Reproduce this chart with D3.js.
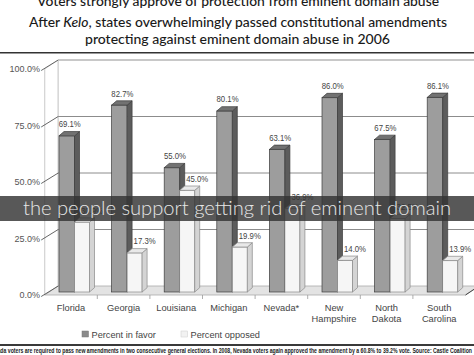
<!DOCTYPE html>
<html><head><meta charset="utf-8">
<script src="https://cdn.jsdelivr.net/npm/d3@7"></script>
<style>html,body{margin:0;padding:0;background:#fff;overflow:hidden}svg{display:block}</style>
</head><body>
<script>
const categories = ["Florida","Georgia","Louisiana","Michigan","Nevada*","New Hampshire","North Dakota","South Carolina"];
const categoryLines = [["Florida"],["Georgia"],["Louisiana"],["Michigan"],["Nevada*"],["New","Hampshire"],["North","Dakota"],["South","Carolina"]];
const percentInFavor = [69.1,82.7,55.0,80.1,63.1,86.0,67.5,86.1];
const percentOpposed = [30.9,17.3,45.0,19.9,36.9,14.0,32.5,13.9];
const yTickValues = [0,25,50,75,100];
const seriesNames = ["Percent in favor","Percent opposed"];
const titleLines = ["Voters strongly approve of protection from eminent domain abuse"];
const overlayText = "the people support getting rid of eminent domain";
const footnote = "*Nevada voters are required to pass new amendments in two consecutive general elections. In 2008, Nevada voters again approved the amendment by a 60.8% to 39.2% vote. Source: Castle Coalition";

const W = 474, H = 355;
const svg = d3.select("body").append("svg").attr("width", W).attr("height", H);

// scales (front plane)
const x = d3.scaleBand().domain(categories).range([44.7, 465.5]);
const y = d3.scaleLinear().domain([0, 100]).range([295, 69]);
const DX = 13.5, DY = -9;       // floor depth
const BX = 4.5, BY = -3;        // bar plane offset
const SX = 5, SY = -4.3;        // bar depth
const BW1 = 15.5, BW2 = 15;

// Titles
const tg = svg.append("g").attr("font-family", "Lato, 'Noto Sans', sans-serif").attr("font-weight", 500).attr("fill", "#1a1a1a").attr("text-anchor", "middle");
tg.append("text").attr("x", 238).attr("y", 5.5).attr("font-size", 14).attr("textLength", 402).attr("lengthAdjust", "spacingAndGlyphs").text(titleLines[0]);
const t2 = tg.append("text").attr("x", 238).attr("y", 26.7).attr("font-size", 14).attr("textLength", 418).attr("lengthAdjust", "spacingAndGlyphs");
t2.append("tspan").text("After ");
t2.append("tspan").attr("font-style", "italic").text("Kelo");
t2.append("tspan").text(", states overwhelmingly passed constitutional amendments");
tg.append("text").attr("x", 237.5).attr("y", 44.3).attr("font-size", 14).attr("textLength", 305).attr("lengthAdjust", "spacingAndGlyphs").text("protecting against eminent domain abuse in 2006");

svg.append("line").attr("x1", 0).attr("x2", W).attr("y1", 52.8).attr("y2", 52.8).attr("stroke", "#333").attr("stroke-width", 1.6);

// walls
const x0 = x.range()[0], x1 = x.range()[1];
const yb = v => y(v) + DY;
svg.append("polygon").attr("points", [[x0, y(0)], [x0 + DX, yb(0)], [x0 + DX, yb(100)], [x0, y(100)]].join(" "))
  .attr("fill", "#fff").attr("stroke", "#d0d0d0").attr("stroke-width", 0.8);
svg.append("rect").attr("x", x0 + DX).attr("y", yb(100)).attr("width", W).attr("height", yb(0) - yb(100)).attr("fill", "#fff");
svg.append("line").attr("x1", x0 + DX).attr("x2", W).attr("y1", yb(100)).attr("y2", yb(100)).attr("stroke", "#c8c8c8").attr("stroke-width", 2);
svg.append("line").attr("x1", x0 + DX).attr("x2", x0 + DX).attr("y1", yb(100)).attr("y2", yb(0)).attr("stroke", "#c8c8c8").attr("stroke-width", 1);
yTickValues.filter(v => v > 0 && v < 100).forEach(v => {
  svg.append("line").attr("x1", x0 + DX).attr("x2", W).attr("y1", yb(v)).attr("y2", yb(v)).attr("stroke", "#8c8c8c").attr("stroke-width", 1);
});
// floor
svg.append("polygon").attr("points", [[x0, y(0)], [x1, y(0)], [x1 + DX, yb(0)], [x0 + DX, yb(0)]].join(" "))
  .attr("fill", "#e3e3e3").attr("stroke", "#aaa").attr("stroke-width", 0.8);
svg.append("line").attr("x1", x1).attr("y1", y(0)).attr("x2", x1 + DX).attr("y2", yb(0)).attr("stroke", "#444").attr("stroke-width", 1);
svg.append("line").attr("x1", x0).attr("x2", x0).attr("y1", y(0)).attr("y2", y(100)).attr("stroke", "#d0d0d0").attr("stroke-width", 0.8);

// y axis ticks & labels
yTickValues.forEach(v => {
  svg.append("line").attr("x1", x0 - 3.5).attr("y1", y(v) + 1.5).attr("x2", x0 + DX).attr("y2", yb(v)).attr("stroke", "#555").attr("stroke-width", 0.9);
  svg.append("text").attr("x", 40).attr("y", y(v) + 3.2).attr("text-anchor", "end")
    .attr("font-family", "'Liberation Sans', Arial, sans-serif").attr("font-size", 9).attr("fill", "#555")
    .text(v.toFixed(1) + "%");
});
// category ticks
categories.slice(1).forEach(c => {
  svg.append("line").attr("x1", x(c)).attr("x2", x(c)).attr("y1", y(0)).attr("y2", y(0) + 4).attr("stroke", "#999").attr("stroke-width", 0.8);
});

// bars
function bar(g, bx, bw, v, fills, stroke) {
  const base = y(0) + BY, top = y(v) + BY;
  g.append("rect").attr("x", bx).attr("y", top).attr("width", bw).attr("height", base - top).attr("fill", fills[0]).attr("stroke", stroke).attr("stroke-width", 0.7);
  g.append("polygon").attr("points", [[bx + bw, top], [bx + bw + SX, top + SY], [bx + bw + SX, base + SY], [bx + bw, base]].join(" "))
    .attr("fill", fills[1]).attr("stroke", stroke).attr("stroke-width", 0.7);
  g.append("polygon").attr("points", [[bx, top], [bx + bw, top], [bx + bw + SX, top + SY], [bx + SX, top + SY]].join(" "))
    .attr("fill", fills[2]).attr("stroke", stroke).attr("stroke-width", 0.7);
}
const bars = svg.append("g");
const labels = svg.append("g").attr("font-family", "'Liberation Sans', Arial, sans-serif").attr("font-size", 9.5).attr("fill", "#444").attr("text-anchor", "middle");
categories.forEach((c, i) => {
  const fx = x(c) + BX + 9.8;
  const ox = fx + BW1;
  bar(bars, fx, BW1, percentInFavor[i], ["#9d9d9d", "#5c5c5c", "#727272"], "#3c3c3c");
  bar(bars, ox, BW2, percentOpposed[i], ["#f6f6f6", "#d4d4d4", "#e9e9e9"], "#8a8a8a");
  labels.append("text").attr("x", fx + BW1 / 2 + 3).attr("y", y(percentInFavor[i]) + BY - 8.5)
    .attr("textLength", 22).attr("lengthAdjust", "spacingAndGlyphs").text(percentInFavor[i].toFixed(1) + "%");
  labels.append("text").attr("x", ox + BW2 / 2 + 10).attr("y", y(percentOpposed[i]) + BY - 8.5)
    .attr("textLength", 22).attr("lengthAdjust", "spacingAndGlyphs").text(percentOpposed[i].toFixed(1) + "%");
});

// category labels
const cl = svg.append("g").attr("font-family", "'Liberation Sans', Arial, sans-serif").attr("font-size", 9.3).attr("fill", "#444").attr("text-anchor", "middle");
categories.forEach((c, i) => {
  categoryLines[i].forEach((ln, j) => {
    cl.append("text").attr("x", x(c) + x.bandwidth() / 2).attr("y", 310.5 + j * 11.5).text(ln);
  });
});

// legend
const lg = svg.append("g").attr("font-family", "'Liberation Sans', Arial, sans-serif").attr("font-size", 9.2).attr("fill", "#444");
[[82, "#8a8a8a", "#777"], [181, "#f2f2f2", "#ccc"]].forEach((d, i) => {
  lg.append("rect").attr("x", d[0]).attr("y", 331).attr("width", 6.5).attr("height", 6).attr("fill", d[1]).attr("stroke", d[2]).attr("stroke-width", 0.5);
  lg.append("text").attr("x", d[0] + 9.5).attr("y", 337.5).text(seriesNames[i]);
});

svg.append("line").attr("x1", 0).attr("x2", W).attr("y1", 345).attr("y2", 345).attr("stroke", "#3a3a3a").attr("stroke-width", 1.8);
svg.append("text").attr("x", -14).attr("y", 352.5).attr("font-family", "'Liberation Sans', Arial, sans-serif")
  .attr("font-weight", "bold").attr("font-size", 6.6).attr("fill", "#222").attr("textLength", 486).attr("lengthAdjust", "spacingAndGlyphs").text(footnote);

// overlay band
svg.append("rect").attr("x", 0).attr("y", 196).attr("width", W).attr("height", 25).attr("fill", "rgba(51,51,51,0.82)");
svg.append("text").attr("x", 237).attr("y", 215).attr("text-anchor", "middle").attr("font-family", "Lato, 'Open Sans', sans-serif")
  .attr("font-weight", 300).attr("font-size", 20).attr("fill", "#e6e6e6").attr("textLength", 428).attr("lengthAdjust", "spacingAndGlyphs").text(overlayText);
</script>
</body></html>
